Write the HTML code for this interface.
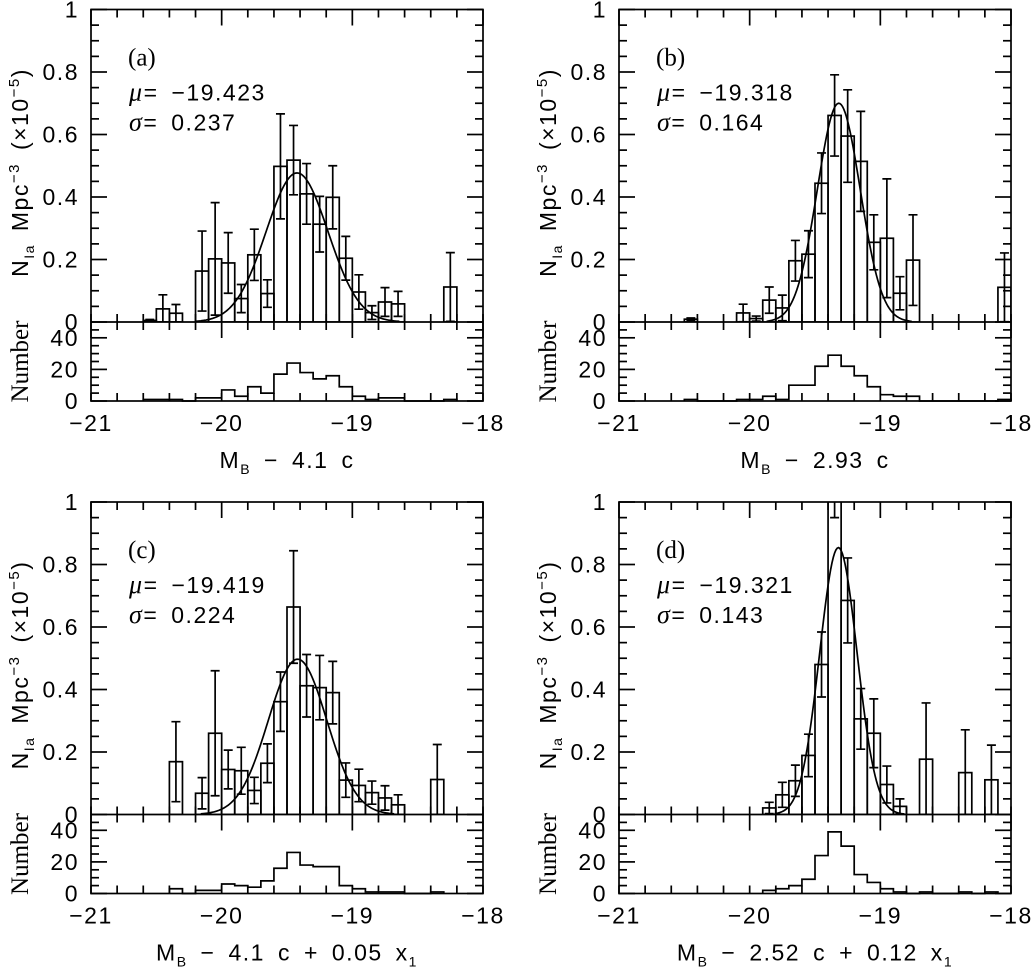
<!DOCTYPE html>
<html><head><meta charset="utf-8"><style>
html,body{margin:0;padding:0;background:#fff;}
svg{display:block;}
text{fill:#000;}
.tk{font-family:"Liberation Sans",sans-serif;font-size:23px;letter-spacing:1.5px;}
.ti{font-family:"Liberation Serif",serif;font-size:25px;}
</style></head><body>
<svg id="chart" width="1036" height="967" viewBox="0 0 1036 967" xmlns="http://www.w3.org/2000/svg"></svg>
<script>
// ---- data ----
const aStart = -20.6;
const aVals = [0.005,0.042,0.028,0,0.163,0.202,0.189,0.075,0.215,0.091,0.498,0.518,0.41,0.313,0.399,0.204,0.096,0.03,0.064,0.058,0,0,0,0.112];
const aErrs = [0.003,0.045,0.028,0,0.128,0.18,0.097,0.045,0.082,0.044,0.168,0.111,0.097,0.089,0.101,0.07,0.055,0.022,0.046,0.04,0,0,0,0.11];
const aCounts = [1,1,1,0,2,2,7,3,9,5,17,24,18,14,16,9,3,1,2,2,0,0,0,1];
const aFit = [-19.423,0.237,0.477];

const bStart = -20.5;
const bVals = [0.009,0,0,0,0.029,0.011,0.07,0.045,0.196,0.217,0.444,0.661,0.595,0.514,0.255,0.268,0.092,0.198,0,0,0,0,0,0,0.111];
const bErrs = [0.004,0,0,0,0.028,0.008,0.042,0.041,0.065,0.075,0.097,0.13,0.148,0.16,0.088,0.19,0.053,0.145,0,0,0,0,0,0,0.11];
const bCounts = [1,0,0,0,1,1,3,1,10,10,22,29,22,16,9,4,3,3,0,0,0,0,0,0,1];
const bFit = [-19.318,0.164,0.70];

const cStart = -20.4;
const cVals = [0.169,0,0.068,0.26,0.144,0.14,0.077,0.164,0.361,0.664,0.412,0.406,0.39,0.11,0.093,0.07,0.053,0.031,0,0,0.112];
const cErrs = [0.128,0,0.05,0.2,0.062,0.075,0.042,0.062,0.095,0.18,0.1,0.103,0.1,0.055,0.052,0.037,0.039,0.032,0,0,0.112];
const cCounts = [3,0,2,2,6,5,4,8,16,26,18,17,17,5,3,1,1,1,0,0,1];
const cFit = [-19.419,0.224,0.497];

const dStart = -19.9;
const dVals = [0.021,0.063,0.108,0.189,0.48,1.15,0.685,0.306,0.26,0.096,0.026,0,0.177,0,0,0.134,0,0.111];
const dErrs = [0.018,0.04,0.05,0.068,0.104,0.2,0.136,0.097,0.11,0.059,0.024,0,0.18,0,0,0.137,0,0.111];
const dCounts = [2,3,5,9,24,39,30,12,7,3,1,0,1,0,0,1,0,1];
const dFit = [-19.321,0.143,0.854];

const topTicks = [0,0.2,0.4,0.6,0.8,1];
const topTickLabels = ["0","0.2","0.4","0.6","0.8","1"];
const botTicks = [0,20,40];
const xTicks = [-21,-20,-19,-18];
const xTickLabels = ["\u221221","\u221220","\u221219","\u221218"];

const svg = document.getElementById('chart');
const NS = 'http://www.w3.org/2000/svg';
function el(tag, attrs, parent){
  const e = document.createElementNS(NS, tag);
  for (const k in attrs) e.setAttribute(k, attrs[k]);
  (parent||svg).appendChild(e);
  return e;
}

function panel(id, x0, yTop, label, start, vals, errs, counts, fit, mu, sig, xtitle){
  const x1 = x0 + 392, y0 = yTop + 312.5, yBot = y0 + 79;
  const X = v => x0 + (v + 21) * (392/3);
  const Y = v => y0 - v * 312.5;
  const C = n => yBot - n * 1.58;
  const g = el('g', {});
  
  
  const cp = el('clipPath', {id:'clip'+id}, g);
  el('rect', {x:x0, y:yTop, width:392, height:312.5}, cp);
  const st = {stroke:'#000', 'stroke-width':1.7, fill:'none'};
  const fr = el('rect', Object.assign({x:x0, y:yTop, width:392, height:yBot-yTop}, st), g);
  
  
  el('line', Object.assign({x1:x0, x2:x1, y1:y0, y2:y0}, st), g);
  for (let i = 0; i <= 15; i++){
    const v = -21 + i*0.2, xx = X(v), major = (i % 5 === 0);
    const L = major ? 16 : 8;
    el('line', Object.assign({x1:xx,x2:xx,y1:yTop,y2:yTop+L}, st), g);
    el('line', Object.assign({x1:xx,x2:xx,y1:y0-8,y2:y0+L}, st), g);
    el('line', Object.assign({x1:xx,x2:xx,y1:yBot,y2:yBot-8}, st), g);
  }
  for (let i = 0; i <= 20; i++){
    const v = i*0.05, yy = Y(v), major = (i % 4 === 0), L = major ? 16 : 8;
    el('line', Object.assign({x1:x0,x2:x0+L,y1:yy,y2:yy}, st), g);
    el('line', Object.assign({x1:x1,x2:x1-L,y1:yy,y2:yy}, st), g);
  }
  for (let i = 0; i <= 9; i++){
    const v = i*5, yy = C(v), major = (i % 4 === 0), L = major ? 16 : 8;
    el('line', Object.assign({x1:x0,x2:x0+L,y1:yy,y2:yy}, st), g);
    el('line', Object.assign({x1:x1,x2:x1-L,y1:yy,y2:yy}, st), g);
  }
  topTicks.forEach((v,i)=>{
    const t = el('text', {x:x0-12, y:Y(v)+8, 'text-anchor':'end', class:'tk'}, g);
    t.textContent = topTickLabels[i];
    
    
  });
  botTicks.forEach(v=>{
    const t = el('text', {x:x0-12, y:C(v)+8, 'text-anchor':'end', class:'tk'}, g);
    t.textContent = String(v);
    
    
  });
  xTicks.forEach((v,i)=>{
    const t = el('text', {x:X(v), y:yBot+30, 'text-anchor':'middle', class:'tk'}, g);
    t.textContent = xTickLabels[i];
    
    
  });
  const bw = 0.1;
  const hg = el('g', {'clip-path':'url(#clip'+id+')'}, g);
  vals.forEach((v,i)=>{
    if (v <= 0) return;
    const l = start + i*bw;
    const r = el('rect', Object.assign({x:X(l), y:Y(v), width:X(l+bw)-X(l), height:Y(0)-Y(v)}, st), hg);
    
    
    const e = errs[i];
    if (e > 0){
      const cx = X(l + bw/2), t = Y(v+e), b = Y(Math.max(0, v-e));
      const eg = el('path', Object.assign({d:`M${cx},${t}V${b}M${cx-4.5},${t}H${cx+4.5}M${cx-4.5},${b}H${cx+4.5}`}, st), hg);
      
      
    }
  });
  let d = '';
  for (let k = 0; k <= 300; k++){
    const v = -21 + 3*k/300;
    const f = fit[2]*Math.exp(-0.5*Math.pow((v-fit[0])/fit[1],2));
    if (f < 0.002) continue;
    d += (d ? 'L' : 'M') + X(v).toFixed(2) + ',' + Y(f).toFixed(2);
  }
  const gp = el('path', Object.assign({d:d}, st), hg);
  
  
  let sd = 'M' + X(start) + ',' + C(0);
  counts.forEach((n,i)=>{
    const l = start + i*bw;
    sd += 'L' + X(l) + ',' + C(n) + 'L' + X(l+bw) + ',' + C(n);
  });
  sd += 'L' + X(start + counts.length*bw) + ',' + C(0);
  const sp = el('path', Object.assign({d:sd}, st), g);
  
  
  const lab = el('text', {x:x0+37, y:yTop+56, class:'ti'}, g);
  lab.textContent = label;
  
  
  const m = el('text', {x:x0+38, y:yTop+91, class:'tk'}, g);
  m.innerHTML = '<tspan font-style="italic" font-family="Liberation Serif" font-size="26">\u03bc</tspan>=\u2002\u221219.' + mu;
  
  
  const s = el('text', {x:x0+38, y:yTop+121, class:'tk'}, g);
  s.innerHTML = '<tspan font-style="italic" font-family="Liberation Serif" font-size="26">\u03c3</tspan>=\u2002' + sig;
  
  
  const yt = el('text', {transform:`translate(${x0-63},${yTop+163}) rotate(-90)`, 'text-anchor':'middle', class:'tk'}, g);
  yt.innerHTML = 'N<tspan font-size="14" dy="6">Ia</tspan><tspan dy="-6">\u2002Mpc</tspan><tspan font-size="15" dy="-9">\u22123</tspan><tspan dy="9">\u2002(\u00d710</tspan><tspan font-size="15" dy="-9">\u22125</tspan><tspan dy="9">)</tspan>';
  
  
  const nt = el('text', {transform:`translate(${x0-63},${(y0+yBot)/2}) rotate(-90)`, 'text-anchor':'middle', class:'ti', 'font-size':'27'}, g);
  nt.textContent = 'Number';
  
  
  const xt = el('text', {x:x0+196, y:yBot+67, 'text-anchor':'middle', class:'tk'}, g);
  xt.innerHTML = xtitle;
  
  
}
const sub = t => '<tspan font-size="14" dy="6">'+t+'</tspan><tspan dy="-6">';
panel('a', 91, 9.5, '(a)', aStart, aVals, aErrs, aCounts, aFit, '423', '0.237', 'M'+sub('B')+'\u2002\u2212\u20024.1\u2002c</tspan>');
panel('b', 619, 9.5, '(b)', bStart, bVals, bErrs, bCounts, bFit, '318', '0.164', 'M'+sub('B')+'\u2002\u2212\u20022.93\u2002c</tspan>');
panel('c', 91, 502, '(c)', cStart, cVals, cErrs, cCounts, cFit, '419', '0.224', 'M'+sub('B')+'\u2002\u2212\u20024.1\u2002c\u2002+\u20020.05\u2002x'+sub('1')+'</tspan></tspan>');
panel('d', 619, 502, '(d)', dStart, dVals, dErrs, dCounts, dFit, '321', '0.143', 'M'+sub('B')+'\u2002\u2212\u20022.52\u2002c\u2002+\u20020.12\u2002x'+sub('1')+'</tspan></tspan>');
</script>
</body></html>
